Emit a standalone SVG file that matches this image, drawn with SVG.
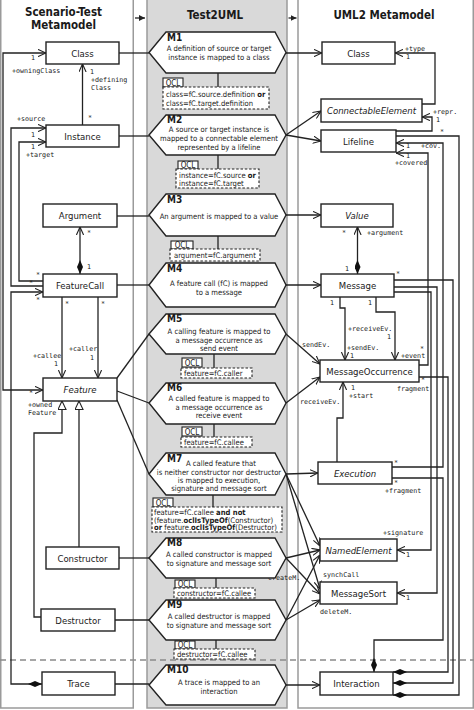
<svg xmlns="http://www.w3.org/2000/svg" width="474" height="710" viewBox="0 0 474 710">
<defs>
<style>
.col{fill:#fff;stroke:#9a9a9a;stroke-width:1.5}
.mid{fill:#d9d9d9;stroke:#9a9a9a;stroke-width:1.5}
.box{fill:#fff;stroke:#222;stroke-width:1.4}
.hex{fill:#fff;stroke:#222;stroke-width:1.4}
.ln{fill:none;stroke:#222;stroke-width:1.3}
.tab{fill:#fff;stroke:#222;stroke-width:1.1}
.dash{fill:#fff;stroke:#222;stroke-width:1.1;stroke-dasharray:2.5,1.8}
text{font-family:"DejaVu Sans Condensed","DejaVu Sans",sans-serif;font-stretch:condensed;fill:#1a1a1a}
.t{font-size:9.5px;text-anchor:middle}
.i{font-style:italic}
.h{font-size:11.5px;font-weight:bold;text-anchor:middle}
.m{font-size:10px;font-weight:bold}
.d{font-size:7.6px;text-anchor:middle}
.o{font-size:7.6px}
.ot{font-size:8px;text-anchor:middle}
.l{font-family:"DejaVu Sans Mono",monospace;font-stretch:normal;font-size:6.7px}
</style>
<marker id="a" viewBox="0 0 10 10" refX="10" refY="5" markerWidth="8" markerHeight="8" markerUnits="userSpaceOnUse" orient="auto"><path d="M0,0.5 L10,5 L0,9.5" fill="none" stroke="#222" stroke-width="1.4"/></marker>
<marker id="as" viewBox="0 0 10 10" refX="10" refY="5" markerWidth="8" markerHeight="8" markerUnits="userSpaceOnUse" orient="auto-start-reverse"><path d="M0,0.5 L10,5 L0,9.5" fill="none" stroke="#222" stroke-width="1.4"/></marker>
<marker id="dm" viewBox="0 0 14 6" refX="0" refY="3" markerWidth="14" markerHeight="6" markerUnits="userSpaceOnUse" orient="auto"><path d="M0,3 L7,0 L14,3 L7,6 Z" fill="#111"/></marker>
<marker id="de" viewBox="0 0 14 6" refX="14" refY="3" markerWidth="14" markerHeight="6" markerUnits="userSpaceOnUse" orient="auto"><path d="M0,3 L7,0 L14,3 L7,6 Z" fill="#111"/></marker>
<marker id="tri" viewBox="0 0 10 10" refX="10" refY="5" markerWidth="9" markerHeight="9" markerUnits="userSpaceOnUse" orient="auto"><path d="M0.5,0.5 L10,5 L0.5,9.5 Z" fill="#fff" stroke="#222" stroke-width="1.2"/></marker>
<marker id="fa" viewBox="0 0 10 10" refX="10" refY="5" markerWidth="6" markerHeight="6" markerUnits="userSpaceOnUse" orient="auto"><path d="M0,0 L10,5 L0,10 Z" fill="#222"/></marker>
</defs>

<!-- columns -->
<g id="columns">
<rect class="col" x="0.75" y="-5" width="132.5" height="713"/>
<rect class="mid" x="147" y="-5" width="140" height="713"/>
<rect class="col" x="298" y="-5" width="175.25" height="713"/>
<line x1="0" y1="660" x2="474" y2="660" stroke="#8a8a8a" stroke-width="1.5" stroke-dasharray="6,4"/>
<path class="ln" d="M135,18 H145" marker-end="url(#fa)"/>
<path class="ln" d="M288.5,18 H296.5" marker-end="url(#fa)"/>
<text class="h" x="63.5" y="16">Scenario-Test</text>
<text class="h" x="63.5" y="29">Metamodel</text>
<text class="h" x="215" y="19">Test2UML</text>
<text class="h" x="384" y="18.5">UML2 Metamodel</text>
</g>

<!-- connectors -->
<g id="connectors">
<!-- left column -->
<path class="ln" d="M82.5,125 V64" marker-end="url(#a)"/>
<path class="ln" d="M43,390 H3 V53 H46" marker-start="url(#as)" marker-end="url(#a)"/>
<path class="ln" d="M43,286 H11 V128 H46" marker-end="url(#a)"/>
<path class="ln" d="M43,281 H19 V142 H46" marker-end="url(#a)"/>
<path class="ln" d="M42,684 H11 V292 H43" marker-start="url(#dm)" marker-end="url(#a)"/>
<path class="ln" d="M80,274 V227" marker-start="url(#dm)" marker-end="url(#a)"/>
<path class="ln" d="M62,297 V378" marker-end="url(#a)"/>
<path class="ln" d="M98,297 V378" marker-end="url(#a)"/>
<path class="ln" d="M79,547 V401" marker-end="url(#tri)"/>
<path class="ln" d="M41,617 H34 V433 H62 V401" marker-end="url(#tri)"/>
<!-- left to middle -->
<path class="ln" d="M119,53 H149"/>
<path class="ln" d="M119,136 H149"/>
<path class="ln" d="M117,216 H149"/>
<path class="ln" d="M117,285 H149"/>
<path class="ln" d="M117,378 L149,334"/>
<path class="ln" d="M117,391 L149,403"/>
<path class="ln" d="M117,400 L149,474"/>
<path class="ln" d="M119,558 H149"/>
<path class="ln" d="M115,620 H149"/>
<path class="ln" d="M115,684 H149"/>
<!-- middle to right -->
<path class="ln" d="M286,53 H322" marker-end="url(#a)"/>
<path class="ln" d="M286,135 L321,111" marker-end="url(#a)"/>
<path class="ln" d="M286,135 L321,141" marker-end="url(#a)"/>
<path class="ln" d="M286,215 H321" marker-end="url(#a)"/>
<path class="ln" d="M286,285 H321" marker-end="url(#a)"/>
<path class="ln" d="M286,334 L320,364" marker-end="url(#a)"/>
<path class="ln" d="M286,403 L320,377" marker-end="url(#a)"/>
<path class="ln" d="M286,474 L318,473" marker-end="url(#a)"/>
<path class="ln" d="M286,474 L320,546" marker-end="url(#a)"/>
<path class="ln" d="M286,474 L320,589" marker-end="url(#a)"/>
<path class="ln" d="M286,558 L320,550" marker-end="url(#a)"/>
<path class="ln" d="M286,558 L320,594" marker-end="url(#a)"/>
<path class="ln" d="M286,620 L320,555" marker-end="url(#a)"/>
<path class="ln" d="M286,620 L320,600" marker-end="url(#a)"/>
<path class="ln" d="M286,685 H320" marker-end="url(#a)"/>
<!-- right column -->
<path class="ln" d="M422,104 H435 V53 H395" marker-end="url(#a)"/>
<path class="ln" d="M396,131 H432 V117 H422" marker-end="url(#a)"/>
<path class="ln" d="M396,136 H459 V695 H393" marker-end="url(#de)"/>
<path class="ln" d="M392,467 H443 V143 H396" marker-end="url(#a)"/>
<path class="ln" d="M419,365 H428 V153 H396" marker-end="url(#a)"/>
<path class="ln" d="M394,280 H453 V683 H393" marker-end="url(#de)"/>
<path class="ln" d="M394,292 H431 V550 H397" marker-end="url(#a)"/>
<path class="ln" d="M394,287 H437 V593 H397" marker-end="url(#a)"/>
<path class="ln" d="M419,377 H448 V672 H393" marker-end="url(#de)"/>
<path class="ln" d="M392,478 H443 V640 H374 V672" marker-end="url(#de)"/>
<path class="ln" d="M357.5,274 V227" marker-start="url(#dm)" marker-end="url(#a)"/>
<path class="ln" d="M340,297 V308 H345 V360" marker-end="url(#a)"/>
<path class="ln" d="M376,297 V312 H395 V360" marker-end="url(#a)"/>
<path class="ln" d="M337,462 V418 H343 V382" marker-end="url(#a)"/>
</g>

<!-- connector labels -->
<g id="labels">
<text class="l" x="12" y="72.5">+owningClass</text>
<text class="l" x="31" y="60">1</text>
<text class="l" x="90" y="74">1</text>
<text class="l" x="91" y="82">+defining</text>
<text class="l" x="91" y="90">Class</text>
<text class="l" x="88" y="120">*</text>
<text class="l" x="17" y="120.5">+source</text>
<text class="l" x="31" y="137">1</text>
<text class="l" x="31" y="148.5">1</text>
<text class="l" x="26" y="157">+target</text>
<text class="l" x="36" y="277">*</text>
<text class="l" x="29" y="285">*</text>
<text class="l" x="36" y="302">*</text>
<text class="l" x="87" y="235">*</text>
<text class="l" x="87" y="269">1</text>
<text class="l" x="65" y="306">*</text>
<text class="l" x="101" y="306">*</text>
<text class="l" x="33" y="357.5">+callee</text>
<text class="l" x="54" y="366">1</text>
<text class="l" x="69" y="351">+caller</text>
<text class="l" x="90" y="359.5">1</text>
<text class="l" x="29" y="394.5">*</text>
<text class="l" x="28" y="406.5">+owned</text>
<text class="l" x="28" y="415">Feature</text>

<text class="l" x="405" y="51">+type</text>
<text class="l" x="406" y="59">1</text>
<text class="l" x="433" y="114">+repr.</text>
<text class="l" x="436" y="121.5">1</text>
<text class="l" x="440" y="134">*</text>
<text class="l" x="406" y="148">1</text>
<text class="l" x="421" y="148">+cov.</text>
<text class="l" x="406" y="158">1</text>
<text class="l" x="395" y="165">+covered</text>
<text class="l" x="342" y="235">*</text>
<text class="l" x="367" y="235">+argument</text>
<text class="l" x="345" y="271">1</text>
<text class="l" x="396" y="276">*</text>
<text class="l" x="330" y="305">1</text>
<text class="l" x="368" y="305">1</text>
<text class="l" x="348" y="330.5">+receiveEv.</text>
<text class="l" x="387" y="339">1</text>
<text class="l" x="347" y="349.5">+sendEv.</text>
<text class="l" x="350" y="358">1</text>
<text class="l" x="420" y="351">*</text>
<text class="l" x="401" y="358">+event</text>
<text class="l" x="302" y="347">sendEv.</text>
<text class="l" x="300" y="404">receiveEv.</text>
<text class="l" x="351" y="390">1</text>
<text class="l" x="349" y="397.5">+start</text>
<text class="l" x="421" y="382">*</text>
<text class="l" x="397" y="390.5">fragment</text>
<text class="l" x="394" y="465">*</text>
<text class="l" x="394" y="485">*</text>
<text class="l" x="385" y="492.5">+fragment</text>
<text class="l" x="383" y="535">+signature</text>
<text class="l" x="406" y="556.5">1</text>
<text class="l" x="406" y="599.5">1</text>
<text class="l" x="323" y="577">synchCall</text>
<text class="l" x="320" y="614">deleteM.</text>
<text class="l" x="268" y="580">createM.</text>
</g>

<!-- left nodes -->
<g id="st-class"><rect class="box" x="46" y="42" width="73" height="22"/><text class="t" x="82.5" y="56.5">Class</text></g>
<g id="st-instance"><rect class="box" x="46" y="125" width="73" height="22"/><text class="t" x="82.5" y="139.5">Instance</text></g>
<g id="st-argument"><rect class="box" x="43" y="204" width="74" height="23"/><text class="t" x="80" y="219">Argument</text></g>
<g id="st-featurecall"><rect class="box" x="43" y="274" width="74" height="23"/><text class="t" x="80" y="289">FeatureCall</text></g>
<g id="st-feature"><rect class="box" x="43" y="378" width="74" height="23"/><text class="t i" x="80" y="393">Feature</text></g>
<g id="st-constructor"><rect class="box" x="46" y="547" width="73" height="22"/><text class="t" x="82.5" y="561.5">Constructor</text></g>
<g id="st-destructor"><rect class="box" x="41" y="609" width="74" height="22"/><text class="t" x="78" y="623.5">Destructor</text></g>
<g id="st-trace"><rect class="box" x="42" y="672" width="73" height="23"/><text class="t" x="78.5" y="687">Trace</text></g>

<!-- right nodes -->
<g id="uml-class"><rect class="box" x="322" y="42" width="73" height="22"/><text class="t" x="358.5" y="56.5">Class</text></g>
<g id="uml-connectable"><rect class="box" x="321" y="99" width="101" height="23"/><text class="t i" x="371.5" y="114">ConnectableElement</text></g>
<g id="uml-lifeline"><rect class="box" x="321" y="130" width="75" height="22"/><text class="t" x="358.5" y="144.5">Lifeline</text></g>
<g id="uml-value"><rect class="box" x="321" y="204" width="72" height="23"/><text class="t i" x="357" y="219">Value</text></g>
<g id="uml-message"><rect class="box" x="321" y="274" width="73" height="23"/><text class="t" x="357.5" y="289">Message</text></g>
<g id="uml-msgocc"><rect class="box" x="320" y="360" width="99" height="22"/><text class="t" x="369.5" y="374.5">MessageOccurrence</text></g>
<g id="uml-execution"><rect class="box" x="318" y="462" width="74" height="22"/><text class="t i" x="355" y="476.5">Execution</text></g>
<g id="uml-namedelement"><rect class="box" x="320" y="539" width="77" height="22"/><text class="t i" x="358.5" y="553.5">NamedElement</text></g>
<g id="uml-messagesort"><rect class="box" x="320" y="582" width="77" height="22"/><text class="t" x="358.5" y="596.5">MessageSort</text></g>
<g id="uml-interaction"><rect class="box" x="320" y="672" width="73" height="23"/><text class="t" x="356.5" y="687">Interaction</text></g>

<!-- mappings -->
<g id="m1">
<polygon class="hex" points="149,52.5 166,32 275,32 286,52.5 275,73 166,73"/>
<text class="m" x="167" y="40.5">M1</text>
<text class="d" x="219" y="51">A definition of source or target</text>
<text class="d" x="219" y="60">instance is mapped to a class</text>
<path class="ln" d="M218,73 V87"/>
<rect class="tab" x="163" y="78" width="20" height="9"/><text class="ot" x="173" y="85.5">OCL</text>
<rect class="dash" x="163" y="87" width="106" height="22"/>
<text class="o" x="166" y="96.5">class=fC.source.definition <tspan font-weight="bold">or</tspan></text>
<text class="o" x="166" y="105.5">class=fC.target.definition</text>
</g>
<g id="m2">
<polygon class="hex" points="149,135 166,115 275,115 286,135 275,155 166,155"/>
<text class="m" x="167" y="123">M2</text>
<text class="d" x="219" y="131.5">A source or target instance is</text>
<text class="d" x="219" y="140.5">mapped to a connectable element</text>
<text class="d" x="219" y="149.5">represented by a lifeline</text>
<path class="ln" d="M218,155 V169"/>
<rect class="tab" x="178" y="161" width="20" height="8"/><text class="ot" x="188" y="168">OCL</text>
<rect class="dash" x="176" y="169" width="83" height="19"/>
<text class="o" x="179" y="177.5">instance=fC.source <tspan font-weight="bold">or</tspan></text>
<text class="o" x="179" y="186">instance=fC.target</text>
</g>
<g id="m3">
<polygon class="hex" points="149,215 166,194 275,194 286,215 275,236 166,236"/>
<text class="m" x="167" y="202.5">M3</text>
<text class="d" x="219" y="218.5">An argument is mapped to a value</text>
<path class="ln" d="M218,236 V249"/>
<rect class="tab" x="171" y="241" width="22" height="8"/><text class="ot" x="182" y="248">OCL</text>
<rect class="dash" x="170" y="249" width="90" height="12"/>
<text class="o" x="174" y="258">argument=fC.argument</text>
</g>
<g id="m4">
<polygon class="hex" points="149,285 166,263 275,263 286,285 275,307 166,307"/>
<text class="m" x="167" y="271.5">M4</text>
<text class="d" x="219" y="286">A feature call (fC) is mapped</text>
<text class="d" x="219" y="295">to a message</text>
</g>
<g id="m5">
<polygon class="hex" points="149,334 166,314 275,314 286,334 275,354 166,354"/>
<text class="m" x="167" y="322">M5</text>
<text class="d" x="219" y="334">A calling feature is mapped to</text>
<text class="d" x="219" y="343">a message occurrence as</text>
<text class="d" x="219" y="351">send event</text>
<path class="ln" d="M214,354 V368"/>
<rect class="tab" x="182" y="358" width="20" height="9"/><text class="ot" x="192" y="365.5">OCL</text>
<rect class="dash" x="181" y="368" width="71" height="10"/>
<text class="o" x="184" y="376">feature=fC.caller</text>
</g>
<g id="m6">
<polygon class="hex" points="149,403 166,383 275,383 286,403 275,424 166,424"/>
<text class="m" x="167" y="391">M6</text>
<text class="d" x="219" y="401">A called feature is mapped to</text>
<text class="d" x="219" y="410">a message occurrence as</text>
<text class="d" x="219" y="418">receive event</text>
<path class="ln" d="M214,424 V437"/>
<rect class="tab" x="182" y="427" width="20" height="9"/><text class="ot" x="192" y="434.5">OCL</text>
<rect class="dash" x="181" y="437" width="71" height="10"/>
<text class="o" x="184" y="445">feature=fC.callee</text>
</g>
<g id="m7">
<polygon class="hex" points="149,474 166,453 275,453 286,474 275,495 166,495"/>
<text class="m" x="167" y="461.5">M7</text>
<text class="d" x="221" y="466">A called feature that</text>
<text class="d" x="219" y="475">is neither constructor nor destructor</text>
<text class="d" x="219" y="483">is mapped to execution,</text>
<text class="d" x="219" y="491">signature and message sort</text>
<path class="ln" d="M213,495 V507"/>
<rect class="tab" x="153" y="498" width="20" height="9"/><text class="ot" x="163" y="505.5">OCL</text>
<rect class="dash" x="152" y="507" width="130" height="25"/>
<text class="o" x="154" y="515">feature=fC.callee <tspan font-weight="bold">and not</tspan></text>
<text class="o" x="154" y="522.5">(feature.<tspan font-weight="bold">oclIsTypeOf</tspan>(Constructor)</text>
<text class="o" x="154" y="530"><tspan font-weight="bold">or</tspan> feature.<tspan font-weight="bold">oclIsTypeOf</tspan>(Destructor)</text>
</g>
<g id="m8">
<polygon class="hex" points="149,558 166,538 275,538 286,558 275,578 166,578"/>
<text class="m" x="167" y="546">M8</text>
<text class="d" x="219" y="557">A called constructor is mapped</text>
<text class="d" x="219" y="566">to signature and message sort</text>
<path class="ln" d="M216,578 V588"/>
<rect class="tab" x="175" y="580" width="20" height="8"/><text class="ot" x="185" y="587">OCL</text>
<rect class="dash" x="174" y="588" width="81" height="10"/>
<text class="o" x="177" y="596">constructor=fC.callee</text>
</g>
<g id="m9">
<polygon class="hex" points="149,620 166,600 275,600 286,620 275,640 166,640"/>
<text class="m" x="167" y="608">M9</text>
<text class="d" x="219" y="618.5">A called destructor is mapped</text>
<text class="d" x="219" y="627.5">to signature and message sort</text>
<path class="ln" d="M216,640 V649"/>
<rect class="tab" x="175" y="641" width="20" height="8"/><text class="ot" x="185" y="648">OCL</text>
<rect class="dash" x="174" y="649" width="81" height="10"/>
<text class="o" x="177" y="657">destructor=fC.callee</text>
</g>
<g id="m10">
<polygon class="hex" points="149,685 166,665 275,665 286,685 275,705 166,705"/>
<text class="m" x="167" y="673">M10</text>
<text class="d" x="219" y="685">A trace is mapped to an</text>
<text class="d" x="219" y="694">interaction</text>
</g>
</svg>
